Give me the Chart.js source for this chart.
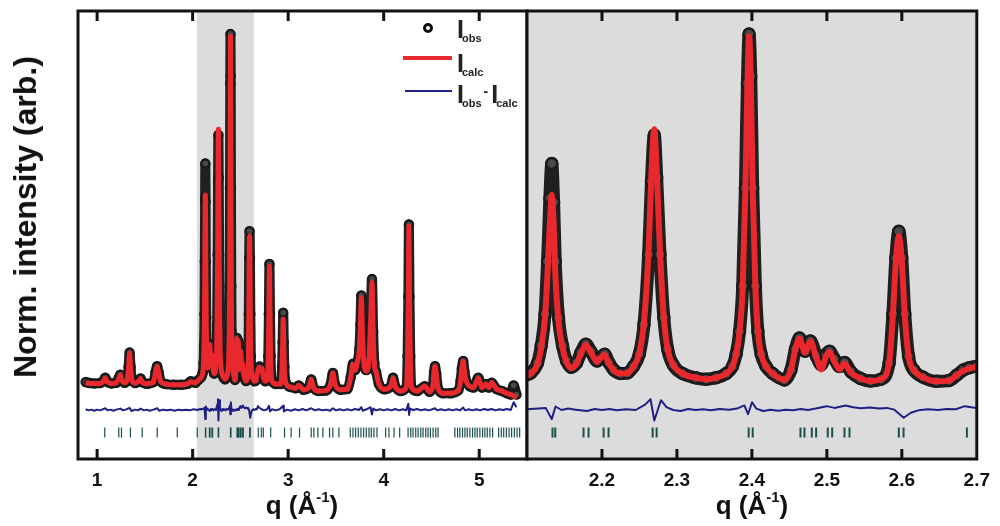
<!DOCTYPE html>
<html>
<head>
<meta charset="utf-8">
<script src="https://cdn.jsdelivr.net/npm/chart.js@4.4.0/dist/chart.umd.min.js"></script>
<style>
  body { margin: 0; background: #fff; }
  #wrap { position: relative; width: 1000px; height: 526px; overflow: hidden;
          font-family: 'Liberation Sans', Arial, sans-serif; font-weight: bold; color: #111; }
  canvas { position: absolute; left: 0; top: 0; }
  .ytitle { position: absolute; left: 25px; top: 217px; transform: translate(-50%, -50%) rotate(-90deg);
            font-size: 32px; line-height: 32px; white-space: nowrap; }
  .xtitle { position: absolute; top: 492px; transform: translateX(-50%);
            font-size: 26px; line-height: 26px; white-space: nowrap; }
  .xtitle sup { font-size: 15px; vertical-align: baseline; position: relative; top: -12px; }
  .leg { position: absolute; left: 457px; font-size: 25px; line-height: 25px; white-space: nowrap; color: #222; }
  .leg sub { font-size: 11px; vertical-align: baseline; position: relative; top: 4px; margin-left: -2px; }
  .leg .dash { font-size: 14px; position: relative; top: -7px; margin: 0 3px 0 2px; }
</style>
</head>
<body>
<div id="wrap">
  <canvas id="left" width="1000" height="526"></canvas>
  <canvas id="right" width="1000" height="526"></canvas>
  <div class="ytitle">Norm. intensity (arb.)</div>
  <div class="xtitle" style="left:302px">q (Å<sup>-1</sup>)</div>
  <div class="xtitle" style="left:752px">q (Å<sup>-1</sup>)</div>
  <div style="position:absolute;left:423px;top:23px;width:4px;height:4px;border:3px solid #111;border-radius:50%;background:#fff"></div>
  <div style="position:absolute;left:403px;top:56px;width:49px;height:4px;background:#e8282c"></div>
  <div style="position:absolute;left:405px;top:90px;width:47px;height:2px;background:#1f1f86"></div>
  <div class="leg" style="top:17px">I<sub>obs</sub></div>
  <div class="leg" style="top:51px">I<sub>calc</sub></div>
  <div class="leg" style="top:82px">I<sub>obs</sub><span class="dash">-</span>I<sub>calc</sub></div>
</div>
<script>
// q (1/Å) with observed and calculated intensity (normalised to the strongest peak)
const Q = [
  0.88, 0.92, 0.97, 1.03, 1.065, 1.085, 1.105, 1.15, 1.20, 1.228, 1.243, 1.258, 1.29, 1.315, 1.330, 1.340, 1.350, 1.365,
  1.40, 1.44, 1.455, 1.47, 1.52, 1.59, 1.612, 1.628, 1.645, 1.665, 1.72, 1.80, 1.88, 1.95, 1.98, 2.00, 2.03, 2.06, 2.09,
  2.105, 2.114, 2.119, 2.124, 2.1274, 2.1305, 2.133, 2.1355, 2.1377, 2.142, 2.1474, 2.153, 2.159, 2.166, 2.172, 2.1785,
  2.185, 2.1935, 2.199, 2.2035, 2.209, 2.216, 2.225, 2.234, 2.242, 2.2498, 2.256, 2.2622, 2.266, 2.2698, 2.273, 2.2774,
  2.2825, 2.2876, 2.295, 2.3076, 2.325, 2.339, 2.352, 2.3656, 2.374, 2.379, 2.3835, 2.3877, 2.3913, 2.394, 2.3962, 2.3985,
  2.4011, 2.4047, 2.408, 2.4123, 2.419, 2.4278, 2.4434, 2.452, 2.458, 2.4634, 2.471, 2.478, 2.486, 2.4924, 2.499, 2.5035,
  2.51, 2.5168, 2.5235, 2.532, 2.545, 2.558, 2.572, 2.583, 2.588, 2.592, 2.596, 2.600, 2.604, 2.609, 2.616, 2.628, 2.646,
  2.663, 2.673, 2.682, 2.690, 2.700, 2.712, 2.725, 2.74, 2.76, 2.78, 2.792, 2.798, 2.804, 2.81, 2.816, 2.83, 2.87, 2.92,
  2.936, 2.942, 2.948, 2.954, 2.96, 2.975, 3.02, 3.08, 3.11, 3.16, 3.215, 3.241, 3.265, 3.32, 3.40, 3.445, 3.468, 3.49,
  3.55, 3.62, 3.655, 3.678, 3.70, 3.725, 3.745, 3.756, 3.766, 3.777, 3.79, 3.818, 3.845, 3.863, 3.877, 3.89, 3.902, 3.92,
  3.95, 4.01, 4.075, 4.098, 4.12, 4.18, 4.235, 4.25, 4.258, 4.264, 4.27, 4.278, 4.293, 4.35, 4.43, 4.48, 4.515, 4.527,
  4.537, 4.55, 4.568, 4.62, 4.70, 4.78, 4.805, 4.818, 4.832, 4.846, 4.862, 4.90, 4.94, 4.99, 5.03, 5.07, 5.10, 5.13,
  5.18, 5.24, 5.29, 5.33, 5.36, 5.39
];
const OBS = [
  0.006, 0.003, 0.002, 0.003, 0.009, 0.018, 0.007, 0.002, 0.004, 0.018, 0.027, 0.012, 0.004, 0.012, 0.050, 0.090, 0.050, 0.012,
  0.003, 0.010, 0.016, 0.006, 0.001, 0.006, 0.035, 0.051, 0.033, 0.008, 0.000, -0.002, -0.002, 0.001, 0.008, 0.006, 0.004, 0.012, 0.020,
  0.032, 0.060, 0.110, 0.200, 0.350, 0.530, 0.630, 0.520, 0.350, 0.190, 0.110, 0.065, 0.048, 0.060, 0.090, 0.114,
  0.094, 0.066, 0.078, 0.085, 0.062, 0.040, 0.030, 0.032, 0.050, 0.086, 0.170, 0.370, 0.580, 0.712, 0.590, 0.370,
  0.190, 0.100, 0.055, 0.030, 0.018, 0.014, 0.018, 0.030, 0.050, 0.086, 0.150, 0.280, 0.560, 0.860, 1.000, 0.880,
  0.560, 0.280, 0.150, 0.086, 0.050, 0.030, 0.012, 0.040, 0.100, 0.132, 0.094, 0.123, 0.080, 0.055, 0.085, 0.094,
  0.072, 0.050, 0.062, 0.035, 0.016, 0.009, 0.014, 0.060, 0.200, 0.360, 0.437, 0.360, 0.200, 0.080, 0.040, 0.020, 0.008,
  0.010, 0.025, 0.040, 0.047, 0.050, 0.040, 0.045, 0.020, 0.008, 0.012, 0.080, 0.200, 0.343, 0.200, 0.080, 0.010, 0.000, 0.000,
  0.050, 0.120, 0.204, 0.120, 0.050, 0.004, -0.008, -0.012, -0.004, -0.016, -0.010, 0.013, -0.010, -0.020, -0.018, 0.000, 0.032, 0.000,
  -0.016, -0.014, 0.020, 0.058, 0.040, 0.065, 0.100, 0.170, 0.253, 0.150, 0.070, 0.040, 0.070, 0.180, 0.300, 0.150, 0.060, 0.035,
  0.000, -0.015, -0.006, 0.018, -0.006, -0.020, -0.010, 0.080, 0.250, 0.456, 0.250, 0.080, -0.010, -0.020, -0.006, -0.022, -0.005, 0.035,
  0.051, 0.030, -0.012, -0.026, -0.026, -0.018, 0.010, 0.045, 0.066, 0.035, 0.010, -0.006, -0.010, 0.018, -0.010, 0.000, -0.010, 0.004,
  -0.014, -0.020, -0.026, -0.030, -0.004, -0.030
];
const CALC = [
  0.004, 0.002, 0.002, 0.002, 0.008, 0.017, 0.007, 0.002, 0.004, 0.017, 0.026, 0.012, 0.004, 0.011, 0.048, 0.088, 0.048, 0.011,
  0.003, 0.010, 0.015, 0.006, 0.001, 0.006, 0.034, 0.050, 0.032, 0.008, 0.000, -0.002, -0.002, 0.001, 0.007, 0.006, 0.004, 0.011, 0.020,
  0.030, 0.057, 0.105, 0.190, 0.320, 0.460, 0.540, 0.460, 0.320, 0.180, 0.105, 0.062, 0.046, 0.058, 0.088, 0.112,
  0.092, 0.064, 0.077, 0.084, 0.060, 0.039, 0.030, 0.032, 0.050, 0.088, 0.175, 0.380, 0.600, 0.728, 0.610, 0.380,
  0.190, 0.100, 0.055, 0.030, 0.018, 0.014, 0.018, 0.030, 0.050, 0.086, 0.150, 0.275, 0.555, 0.850, 0.994, 0.870,
  0.555, 0.275, 0.150, 0.086, 0.050, 0.030, 0.012, 0.040, 0.100, 0.130, 0.090, 0.122, 0.075, 0.042, 0.080, 0.092,
  0.065, 0.042, 0.058, 0.033, 0.016, 0.009, 0.014, 0.060, 0.195, 0.350, 0.423, 0.350, 0.195, 0.080, 0.040, 0.020, 0.008,
  0.010, 0.025, 0.038, 0.045, 0.048, 0.040, 0.044, 0.020, 0.008, 0.012, 0.080, 0.200, 0.337, 0.200, 0.080, 0.010, 0.000, 0.000,
  0.045, 0.110, 0.186, 0.110, 0.045, 0.004, -0.008, -0.012, -0.004, -0.016, -0.010, 0.013, -0.010, -0.020, -0.018, 0.000, 0.031, 0.000,
  -0.016, -0.014, 0.020, 0.056, 0.040, 0.063, 0.100, 0.165, 0.247, 0.145, 0.070, 0.037, 0.068, 0.175, 0.290, 0.145, 0.058, 0.035,
  0.000, -0.015, -0.006, 0.017, -0.006, -0.020, -0.010, 0.080, 0.250, 0.452, 0.250, 0.080, -0.010, -0.020, -0.006, -0.022, -0.005, 0.035,
  0.050, 0.030, -0.012, -0.026, -0.026, -0.018, 0.010, 0.044, 0.065, 0.034, 0.009, -0.006, -0.010, 0.017, -0.010, 0.000, -0.010, 0.004,
  -0.014, -0.020, -0.026, -0.030, -0.033, -0.040
];
// difference curve, drawn with an offset below the pattern
const DIFF_Q = [
  0.88, 0.91, 0.94, 0.97, 1.00, 1.03, 1.06, 1.085, 1.11, 1.14,
  1.17, 1.20, 1.245, 1.27, 1.30, 1.34, 1.36, 1.40, 1.43, 1.455,
  1.49, 1.52, 1.55, 1.59, 1.628, 1.65, 1.69, 1.73, 1.77, 1.81,
  1.85, 1.89, 1.93, 1.97, 2.01, 2.05, 2.08, 2.10, 2.125, 2.133,
  2.138, 2.146, 2.155, 2.165, 2.18, 2.19, 2.20, 2.21, 2.22, 2.232,
  2.245, 2.258, 2.2648, 2.2698, 2.2787, 2.286, 2.295, 2.305, 2.315, 2.325,
  2.335, 2.345, 2.357, 2.37, 2.38, 2.39, 2.3948, 2.4002, 2.406, 2.415,
  2.425, 2.435, 2.445, 2.455, 2.465, 2.475, 2.485, 2.50, 2.51, 2.525,
  2.535, 2.545, 2.557, 2.57, 2.58, 2.59, 2.6025, 2.612, 2.622, 2.635,
  2.648, 2.66, 2.672, 2.684, 2.695, 2.72, 2.75, 2.78, 2.80, 2.81,
  2.83, 2.87, 2.91, 2.948, 2.955, 2.99, 3.03, 3.07, 3.11, 3.15,
  3.19, 3.241, 3.28, 3.32, 3.36, 3.40, 3.44, 3.468, 3.50, 3.54,
  3.58, 3.62, 3.66, 3.70, 3.74, 3.766, 3.78, 3.82, 3.862, 3.877,
  3.89, 3.92, 3.96, 4.00, 4.04, 4.08, 4.12, 4.16, 4.20, 4.235,
  4.258, 4.266, 4.276, 4.31, 4.35, 4.39, 4.43, 4.47, 4.51, 4.537,
  4.56, 4.60, 4.64, 4.68, 4.72, 4.76, 4.80, 4.832, 4.85, 4.89,
  4.93, 4.97, 5.01, 5.05, 5.09, 5.13, 5.17, 5.21, 5.25, 5.29,
  5.33, 5.36, 5.39
];
const DIFF = [
  -0.072, -0.075, -0.073, -0.076, -0.073, -0.075, -0.072, -0.069, -0.075, -0.073,
  -0.076, -0.073, -0.070, -0.075, -0.073, -0.068, -0.077, -0.073, -0.075, -0.070,
  -0.075, -0.073, -0.076, -0.073, -0.069, -0.076, -0.073, -0.075, -0.073, -0.076,
  -0.073, -0.075, -0.073, -0.075, -0.072, -0.074, -0.071, -0.072, -0.068, -0.100,
  -0.064, -0.074, -0.070, -0.073, -0.077, -0.071, -0.074, -0.071, -0.075, -0.072,
  -0.074, -0.058, -0.043, -0.104, -0.046, -0.066, -0.074, -0.077, -0.071, -0.074,
  -0.072, -0.075, -0.071, -0.073, -0.070, -0.061, -0.086, -0.052, -0.070, -0.077,
  -0.073, -0.076, -0.073, -0.075, -0.071, -0.074, -0.070, -0.063, -0.068, -0.061,
  -0.066, -0.069, -0.067, -0.070, -0.068, -0.073, -0.096, -0.082, -0.075, -0.072,
  -0.074, -0.071, -0.072, -0.063, -0.067, -0.072, -0.075, -0.072, -0.062, -0.078,
  -0.072, -0.075, -0.072, -0.062, -0.078, -0.073, -0.076, -0.072, -0.075, -0.071,
  -0.075, -0.069, -0.075, -0.072, -0.075, -0.073, -0.076, -0.069, -0.075, -0.072,
  -0.075, -0.072, -0.075, -0.071, -0.074, -0.066, -0.076, -0.072, -0.066, -0.087,
  -0.070, -0.075, -0.072, -0.075, -0.072, -0.075, -0.071, -0.075, -0.072, -0.075,
  -0.056, -0.088, -0.070, -0.074, -0.071, -0.075, -0.072, -0.075, -0.072, -0.069,
  -0.075, -0.072, -0.075, -0.072, -0.075, -0.072, -0.075, -0.067, -0.075, -0.072,
  -0.075, -0.072, -0.075, -0.071, -0.074, -0.071, -0.075, -0.072, -0.074, -0.071,
  -0.074, -0.052, -0.066
];
// reflection (Bragg) positions
const REFL_Q = [
  1.080, 1.227, 1.255, 1.349, 1.472, 1.629, 1.839, 2.048,
  2.134, 2.1377, 2.1754, 2.1821, 2.2022, 2.2088, 2.2676, 2.2729, 2.3957, 2.4011, 2.4648, 2.4701, 2.4799, 2.4857,
  2.5012, 2.5071, 2.5235, 2.5302, 2.596, 2.6023, 2.6868,
  2.719, 2.740, 2.817, 2.962, 3.031, 3.119, 3.241, 3.269, 3.311, 3.363, 3.433, 3.468, 3.531,
  3.650, 3.678, 3.706, 3.734, 3.762, 3.790, 3.818, 3.846, 3.870, 3.898, 3.930, 4.020, 4.055, 4.108, 4.167,
  4.255, 4.283, 4.307, 4.335, 4.360, 4.388, 4.412, 4.440, 4.464, 4.489, 4.517, 4.545, 4.569,
  4.745, 4.773, 4.797, 4.825, 4.850, 4.874, 4.902, 4.930, 4.955, 4.979, 5.007, 5.035, 5.059, 5.084, 5.112, 5.140,
  5.203, 5.231, 5.256, 5.284, 5.312, 5.339, 5.368, 5.396, 5.423
];
const LEFT_TICKS = [1, 2, 3, 4, 5];
const RIGHT_TICKS = [2.2, 2.3, 2.4, 2.5, 2.6, 2.7];
const ZOOM_BAND = [2.045, 2.64];

const RED = '#e8282c', NAVY = '#1f1f86', TEAL = '#1d4f4f', DARK = '#202020', SHADE = '#dcdcdc';
const FONT = "'Liberation Sans', Arial, sans-serif";

function pts(xs, ys) { return xs.map((x, i) => ({ x: x, y: ys[i] })); }

// gray shading, inner tick marks and the black frame
const framePlugin = {
  id: 'frame',
  beforeDatasetsDraw(chart, args, o) {
    const { ctx, chartArea: a, scales: { x } } = chart;
    ctx.save();
    ctx.fillStyle = SHADE;
    if (o.shadeAll) ctx.fillRect(a.left, a.top, a.width, a.height);
    if (o.band) {
      const x0 = x.getPixelForValue(o.band[0]), x1 = x.getPixelForValue(o.band[1]);
      ctx.fillRect(x0, a.top, x1 - x0, a.height);
    }
    ctx.restore();
  },
  afterDraw(chart, args, o) {
    const { ctx, chartArea: a, scales: { x } } = chart;
    ctx.save();
    ctx.strokeStyle = '#111';
    ctx.lineWidth = 3;
    ctx.beginPath();
    o.marks.forEach(v => {
      const px = x.getPixelForValue(v);
      ctx.moveTo(px, a.bottom); ctx.lineTo(px, a.bottom - 10);
      ctx.moveTo(px, a.top); ctx.lineTo(px, a.top + 10);
    });
    ctx.stroke();
    ctx.strokeRect(a.left, a.top, a.width, a.height);
    ctx.restore();
  }
};

function panel(id, xmin, xmax, ticks, pad, frame, w, fmt) {
  new Chart(document.getElementById(id), {
    type: 'line',
    data: {
      datasets: [
        { data: pts(Q, CALC), borderColor: RED, borderWidth: w.calc, pointRadius: 0,
          cubicInterpolationMode: 'monotone', borderJoinStyle: 'round', order: 1, clip: 0 },
        { data: pts(Q, OBS), borderColor: DARK, borderWidth: w.obs, pointRadius: w.dot,
          pointBorderWidth: 2.5, pointBorderColor: '#1a1a1a', pointBackgroundColor: '#4a4a4a',
          cubicInterpolationMode: 'monotone', borderJoinStyle: 'round', order: 2, clip: 0 },
        { data: pts(DIFF_Q, DIFF), borderColor: NAVY, borderWidth: w.diff, pointRadius: 0,
          borderJoinStyle: 'round', order: 0, clip: 0 },
        { data: REFL_Q.map(q => ({ x: q, y: -0.1385 })), showLine: false, pointStyle: 'line',
          pointRotation: 90, pointRadius: 5, pointBorderWidth: w.tick, pointBorderColor: TEAL,
          borderColor: TEAL, order: 0, clip: 0 }
      ]
    },
    options: {
      responsive: false,
      animation: false,
      events: [],
      layout: { padding: pad },
      plugins: { legend: { display: false }, tooltip: { enabled: false }, frame: frame },
      scales: {
        x: {
          type: 'linear', min: xmin, max: xmax,
          afterBuildTicks: s => { s.ticks = ticks.map(v => ({ value: v })); },
          afterFit: s => { s.height = 40; },
          grid: { display: false, drawTicks: false },
          border: { display: false },
          ticks: { autoSkip: false, maxRotation: 0, padding: 10, color: '#111',
                   font: { family: FONT, size: 19, weight: 'bold' }, callback: fmt }
        },
        y: { display: false, min: -0.214, max: 1.066 }
      }
    },
    plugins: [framePlugin]
  });
}

panel('left', 0.8, 5.5, LEFT_TICKS, { left: 78, right: 473, top: 11, bottom: 27 },
      { band: ZOOM_BAND, marks: LEFT_TICKS },
      { calc: 5, obs: 10, dot: 4, diff: 2, tick: 1.2 }, v => String(v));
panel('right', 2.1, 2.7, RIGHT_TICKS, { left: 527, right: 23, top: 11, bottom: 27 },
      { shadeAll: true, marks: RIGHT_TICKS.slice(0, 5) },
      { calc: 6, obs: 13, dot: 5.5, diff: 2, tick: 2 }, v => v.toFixed(1));
</script>
</body>
</html>
